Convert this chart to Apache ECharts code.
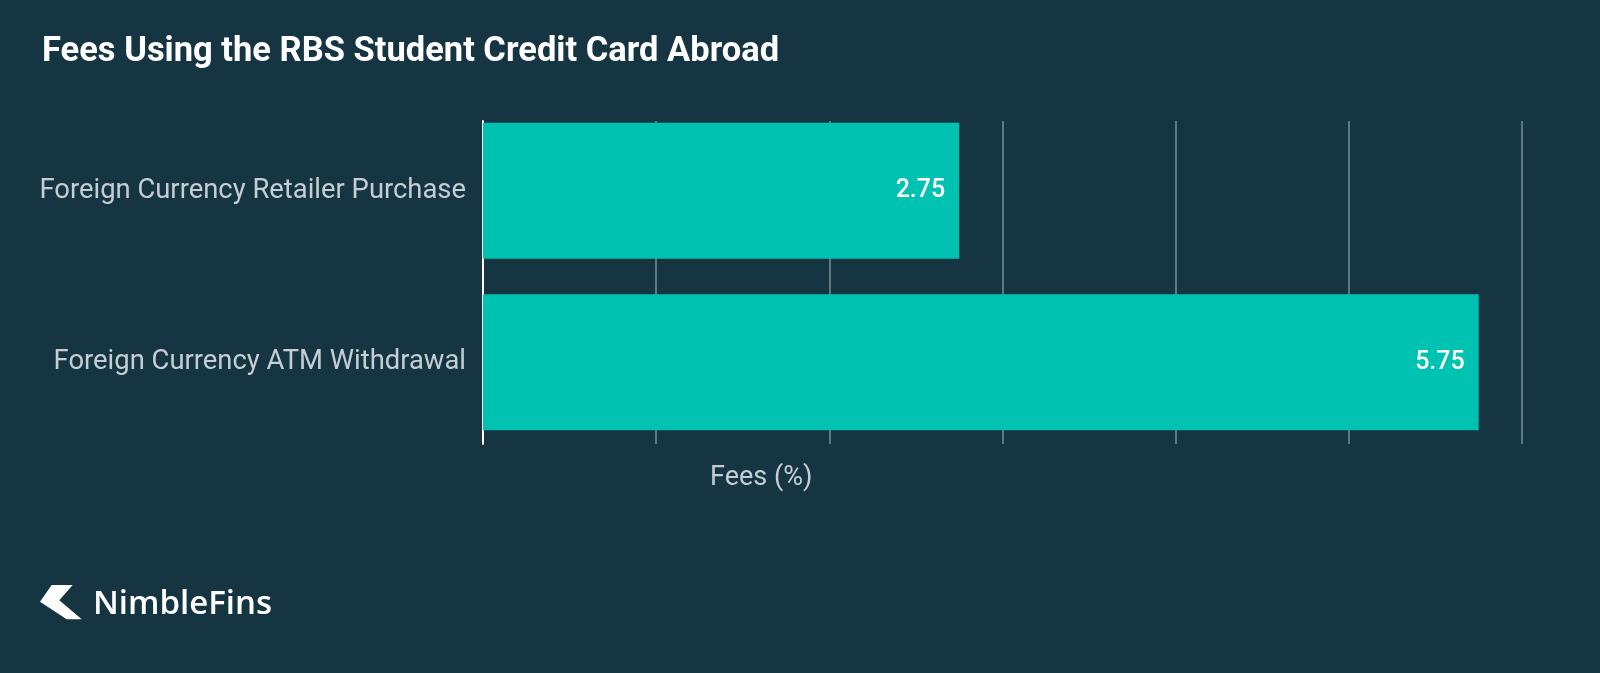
<!DOCTYPE html>
<html>
<head>
<meta charset="utf-8">
<script src="https://cdn.jsdelivr.net/npm/echarts@6/dist/echarts.min.js"></script>
<style>
html,body{margin:0;padding:0;background:#163542;}
#chart{width:1600px;height:673px;}
</style>
</head>
<body>
<div id="chart"></div>
<script>
const titleText = 'Fees Using the RBS Student Credit Card Abroad';
const categories = ['Foreign Currency Retailer Purchase', 'Foreign Currency ATM Withdrawal'];
const feeValues = [2.75, 5.75];
const axisName = 'Fees (%)';
const brandName = 'NimbleFins';

const chart = echarts.init(document.getElementById('chart'));
const font = 'Roboto, "Noto Sans", sans-serif';
chart.setOption({
  backgroundColor: '#163542',
  animation: false,
  title: {
    text: titleText,
    left: 37,
    top: 30,
    textStyle: { color: '#ffffff', fontSize: 34.5, fontWeight: 'bold', fontFamily: font }
  },
  grid: [
    { left: 483, right: 78, top: 105, height: 343, containLabel: false },
    { left: 483, right: 78, top: 121, height: 323, containLabel: false }
  ],
  xAxis: [
    { gridIndex: 0, type: 'value', min: 0, max: 6, interval: 1, show: false },
    { gridIndex: 1, type: 'value', min: 0, max: 6, interval: 1,
      axisLine: { show: false }, axisTick: { show: false }, axisLabel: { show: false },
      splitLine: { show: true, lineStyle: { color: '#5f7880', width: 2 } } }
  ],
  yAxis: [
    { gridIndex: 0, type: 'category', data: categories, inverse: true,
      axisLine: { show: false }, axisTick: { show: false },
      axisLabel: { color: '#c5cfd3', fontSize: 27.4, fontFamily: font, margin: 17 } },
    { gridIndex: 1, type: 'category', data: categories, inverse: true,
      axisLine: { show: true, lineStyle: { color: '#ffffff', width: 2 } },
      axisTick: { show: false }, axisLabel: { show: false }, splitLine: { show: false } }
  ],
  series: [{
    type: 'bar',
    xAxisIndex: 0, yAxisIndex: 0,
    data: feeValues,
    barWidth: 136,
    z: 3,
    itemStyle: { color: '#00c2b0' },
    label: {
      show: true, position: 'insideRight', distance: 14,
      color: '#ffffff', fontSize: 25, fontWeight: 500, fontFamily: font
    }
  }],
  graphic: [
    { type: 'text', left: 710, top: 465,
      style: { text: axisName, fill: '#c5cfd3', fontSize: 27, fontFamily: font } },
    { type: 'polygon',
      shape: { points: [[51.7,585],[72.7,585],[59.3,600.3],[81.7,619.3],[66.7,619.3],[40,601.7]] },
      style: { fill: '#ffffff' } },
    { type: 'text', left: 93, top: 588,
      style: { text: brandName, fill: '#ffffff', fontSize: 33, fontWeight: 600, fontFamily: '"Open Sans", sans-serif' } }
  ]
});
</script>
</body>
</html>
